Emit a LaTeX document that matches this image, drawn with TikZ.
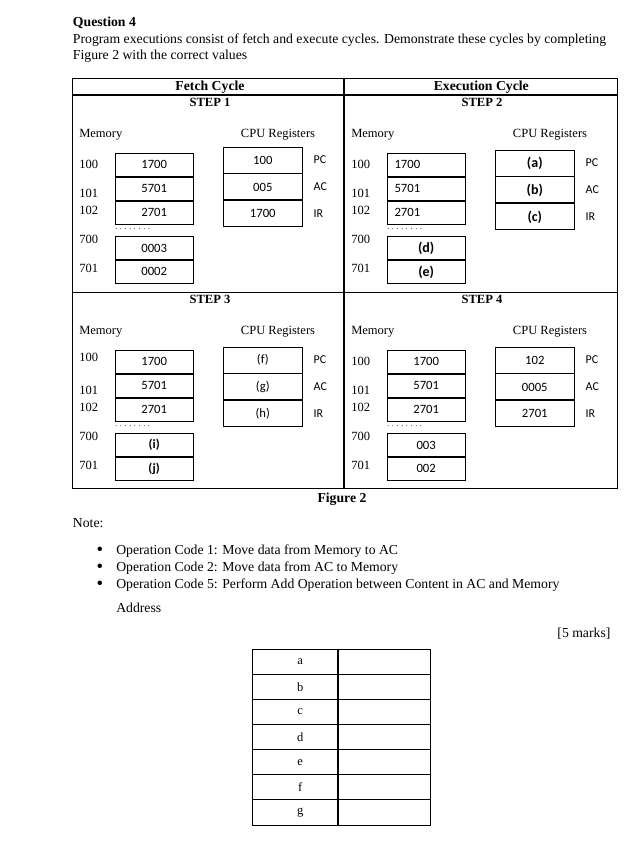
\documentclass[tikz,border=0pt]{standalone}
\usepackage{fontspec}
\setmainfont{Liberation Serif}
\newfontfamily\calfont{Carlito}
\usetikzlibrary{positioning}
\tikzset{
  txt/.style     = {anchor=base west, inner sep=0pt, font=\fontsize{10.3}{12}\selectfont},
  hd/.style      = {inner sep=0pt, font=\fontsize{10.3}{12}\selectfont\bfseries},
  steplab/.style = {inner sep=0pt, font=\fontsize{9.4}{11}\selectfont\bfseries},
  lab/.style     = {inner sep=0pt, font=\fontsize{9.4}{11}\selectfont},
  addr/.style    = {lab, anchor=west},
  mcell/.style   = {draw=black, line width=0.7pt, minimum width=58.5pt, minimum height=17.25pt,
                    inner sep=0pt, font=\calfont\fontsize{9.5}{11}\selectfont},
  mcellL/.style  = {mcell, inner xsep=5.5pt, text width=47.5pt, align=left},
  rcell/.style   = {mcell, minimum width=59.25pt, minimum height=19.5pt},
  ans/.style     = {font=\calfont\bfseries\fontsize{10.5}{12}\selectfont},
  anss/.style    = {font=\calfont\bfseries\fontsize{9.5}{11}\selectfont},
  reglab/.style  = {inner sep=0pt, font=\calfont\fontsize{9}{11}\selectfont},
  dotrow/.style  = {anchor=base west, inner sep=0pt, font=\fontsize{6}{7}\selectfont},
  bul/.style     = {anchor=base, inner sep=0pt, font=\fontsize{14}{14}\selectfont},
  sep/.style     = {line width=1.5pt},
  frame/.style   = {line width=0.9pt},
  tkey/.style    = {draw=black, line width=0.7pt, minimum width=63.75pt, minimum height=18.8pt,
                    inner sep=0pt, font=\fontsize{9.4}{11}\selectfont},
  tval/.style    = {tkey, minimum width=69.5pt},
}
\begin{document}
\begin{tikzpicture}[x=0.75pt, y=-0.75pt]
  \fill[white] (0,0) rectangle (640,845);
  \useasboundingbox (0,0) rectangle (640,845);

  % question text
  \node[txt, font=\fontsize{10.3}{12}\selectfont\bfseries] (q4) at (72.7,27) {Question 4};
  \node[txt] (intro1) at (72.7,44) {Program executions consist of fetch and execute cycles. Demonstrate these cycles by completing};
  \node[txt] (intro2) at (72.7,60) {Figure 2 with the correct values};

  % figure frame
  \draw[frame] (72.7,78.3) rectangle (617.3,488.5);
  \draw[frame] (72.7,95) -- (617.3,95);
  \draw[frame] (344,78.3) -- (344,488.5);
  \draw[frame] (72.7,292.5) -- (617.3,292.5);
  \node[hd] (fc) at (210,87.5) {Fetch Cycle};
  \node[hd] (ec) at (481.3,87.5) {Execution Cycle};

  % step 1
  \begin{scope}
    \node[steplab] (st1) at (210,102) {STEP 1};
    \node[addr] (mem1) at (79,135) {Memory};
    \node[lab] (cpu1) at (278,135) {CPU Registers};
    \node[mcell] (m1a) at (154.2,164.8) {1700};
    \node[mcell, below=0pt of m1a] (m1b) {5701};
    \node[mcell, below=0pt of m1b] (m1c) {2701};
    \node[mcell, below=8.5pt of m1c] (m1d) {0003};
    \node[mcell, below=0pt of m1d] (m1e) {0002};
    \draw[sep] (m1a.south west) -- (m1a.south east);
    \node[dotrow] (dt1) at (115,229) {. . . . . . . .};
    \node[addr] (a1a) at (79,164) {100};
    \node[addr] (a1b) at (79,193) {101};
    \node[addr] (a1c) at (79,210) {102};
    \node[addr] (a1d) at (79,239) {700};
    \node[addr] (a1e) at (79,268) {701};
    \node[rcell] (r1a) at (262.8,160) {100};
    \node[rcell, below=0pt of r1a] (r1b) {005};
    \node[rcell, below=0pt of r1b] (r1c) {1700};
    \node[reglab, right=8pt of r1a] (pc1) {PC};
    \node[reglab, right=8pt of r1b] (ac1) {AC};
    \node[reglab, right=8pt of r1c] (ir1) {IR};
  \end{scope}

  % step 2
  \begin{scope}[shift={(272,0)}]
    \node[steplab] (st2) at (210,102) {STEP 2};
    \node[addr] (mem2) at (79,135) {Memory};
    \node[lab] (cpu2) at (278,135) {CPU Registers};
    \node[mcellL] (m2a) at (154.2,164.8) {1700};
    \node[mcellL, below=0pt of m2a] (m2b) {5701};
    \node[mcellL, below=0pt of m2b] (m2c) {2701};
    \node[mcell, ans, below=8.5pt of m2c] (m2d) {(d)};
    \node[mcell, ans, below=0pt of m2d] (m2e) {(e)};
    \draw[sep] (m2b.south west) -- (m2b.south east);
    \draw[sep] (m2d.south west) -- (m2d.south east);
    \node[dotrow] (dt2) at (115,229) {. . . . . . . .};
    \node[addr] (a2a) at (79,164) {100};
    \node[addr] (a2b) at (79,193) {101};
    \node[addr] (a2c) at (79,210) {102};
    \node[addr] (a2d) at (79,239) {700};
    \node[addr] (a2e) at (79,268) {701};
    \node[rcell, ans] (r2a) at (262.8,163) {(a)};
    \node[rcell, ans, below=0pt of r2a] (r2b) {(b)};
    \node[rcell, ans, below=0pt of r2b] (r2c) {(c)};
    \node[reglab, right=8pt of r2a] (pc2) {PC};
    \node[reglab, right=8pt of r2b] (ac2) {AC};
    \node[reglab, right=8pt of r2c] (ir2) {IR};
  \end{scope}

  % step 3
  \begin{scope}[shift={(0,197)}]
    \node[steplab] (st3) at (210,102) {STEP 3};
    \node[addr] (mem3) at (79,135) {Memory};
    \node[lab] (cpu3) at (278,135) {CPU Registers};
    \node[mcell] (m3a) at (154.2,164.8) {1700};
    \node[mcell, below=0pt of m3a] (m3b) {5701};
    \node[mcell, below=0pt of m3b] (m3c) {2701};
    \node[mcell, anss, below=8.5pt of m3c] (m3d) {(i)};
    \node[mcell, anss, below=0pt of m3d] (m3e) {(j)};
    \draw[sep] (m3b.south west) -- (m3b.south east);
    \draw[sep] (m3d.south west) -- (m3d.south east);
    \node[dotrow] (dt3) at (115,229) {. . . . . . . .};
    \node[addr] (a3a) at (79,160) {100};
    \node[addr] (a3b) at (79,193) {101};
    \node[addr] (a3c) at (79,210) {102};
    \node[addr] (a3d) at (79,239) {700};
    \node[addr] (a3e) at (79,268) {701};
    \node[rcell] (r3a) at (262.8,163) {(f)};
    \node[rcell, below=0pt of r3a] (r3b) {(g)};
    \node[rcell, below=0pt of r3b] (r3c) {(h)};
    \node[reglab, right=8pt of r3a] (pc3) {PC};
    \node[reglab, right=8pt of r3b] (ac3) {AC};
    \node[reglab, right=8pt of r3c] (ir3) {IR};
  \end{scope}

  % step 4
  \begin{scope}[shift={(272,197)}]
    \node[steplab] (st4) at (210,102) {STEP 4};
    \node[addr] (mem4) at (79,135) {Memory};
    \node[lab] (cpu4) at (278,135) {CPU Registers};
    \node[mcell] (m4a) at (154.2,164.8) {1700};
    \node[mcell, below=0pt of m4a] (m4b) {5701};
    \node[mcell, below=0pt of m4b] (m4c) {2701};
    \node[mcell, below=8.5pt of m4c] (m4d) {003};
    \node[mcell, below=0pt of m4d] (m4e) {002};
    \draw[sep] (m4b.south west) -- (m4b.south east);
    \draw[sep] (m4d.south west) -- (m4d.south east);
    \node[dotrow] (dt4) at (115,229) {. . . . . . . .};
    \node[addr] (a4a) at (79,164) {100};
    \node[addr] (a4b) at (79,193) {101};
    \node[addr] (a4c) at (79,210) {102};
    \node[addr] (a4d) at (79,239) {700};
    \node[addr] (a4e) at (79,268) {701};
    \node[rcell] (r4a) at (262.8,163) {102};
    \node[rcell, below=0pt of r4a] (r4b) {0005};
    \node[rcell, below=0pt of r4b] (r4c) {2701};
    \node[reglab, right=8pt of r4a] (pc4) {PC};
    \node[reglab, right=8pt of r4b] (ac4) {AC};
    \node[reglab, right=8pt of r4c] (ir4) {IR};
  \end{scope}

  \node[hd] (fig) at (342,499) {Figure 2};

  % notes
  \node[txt] (note) at (72.7,527.3) {Note:};
  \node[bul] (b1) at (100,555.7) {\textbullet};
  \node[bul] (b2) at (100,572.3) {\textbullet};
  \node[bul] (b3) at (100,589.3) {\textbullet};
  \node[txt] (op1) at (116,554.7) {Operation Code 1: Move data from Memory to AC};
  \node[txt] (op2) at (116,571.3) {Operation Code 2: Move data from AC to Memory};
  \node[txt] (op5) at (116,588.3) {Operation Code 5: Perform Add Operation between Content in AC and Memory};
  \node[txt] (addrtxt) at (116,612.3) {Address};
  \node[txt, anchor=base east] (marks) at (610.7,637.3) {[5 marks]};

  % answer table
  \foreach \k [count=\i] in {a,b,c,d,e,f,g} {
    \node[tkey] (k\k) at (294.8,636.75+25.1*\i) {\hspace*{8pt}\k};
    \node[tval, right=0pt of k\k] (v\k) {};
  }
\end{tikzpicture}
\end{document}
